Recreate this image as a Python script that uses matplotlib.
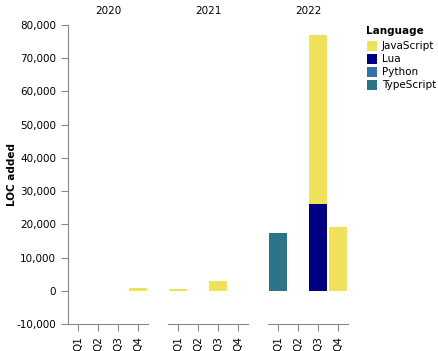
import numpy as np
import matplotlib.pyplot as plt
from matplotlib.patches import Rectangle
from matplotlib.ticker import FuncFormatter

years = ["2020", "2021", "2022"]
quarters = ["Q1", "Q2", "Q3", "Q4"]
languages = ["JavaScript", "Lua", "Python", "TypeScript"]
colors = ["#f1e05a", "#000080", "#3572a5", "#2b7489"]

# LOC added per quarter, rows = year, cols = quarter
lua = [[0, 0, 0, 0], [0, 0, 0, 0], [0, 0, 26100, 0]]
typescript = [[0, 0, 0, 0], [0, 0, 0, 0], [17400, 0, 0, 0]]
python = [[0, 0, 0, 0], [0, 0, 0, 0], [0, 0, 0, 0]]
javascript = [[0, 0, 0, 700], [400, 0, 3000, 0], [0, 0, 50900, 19200]]

# stacking order from bottom
stack = [("Lua", lua), ("TypeScript", typescript), ("Python", python), ("JavaScript", javascript)]
col = dict(zip(languages, colors))

fig = plt.figure(figsize=(4.38, 3.51), dpi=100)
W, H = 438, 351
lefts = [68, 168, 268]
x = np.arange(len(quarters))

for i, yr in enumerate(years):
    ax = fig.add_axes([lefts[i] / W, 1 - 324 / H, 80 / W, 299 / H])
    bottom = np.zeros(4)
    for lang, vals in stack:
        v = np.array(vals[i], dtype=float)
        ax.bar(x, v, width=0.9, bottom=bottom, color=col[lang], linewidth=0)
        bottom += v
    ax.set_xlim(-0.5, 3.5)
    ax.set_ylim(-10000, 80000)
    ax.set_xticks(x)
    ax.set_xticklabels(quarters, rotation=90, fontsize=7.5)
    ax.set_title(yr, fontsize=7.5, pad=8)
    for s in ["top", "right"]:
        ax.spines[s].set_visible(False)
    ax.spines["bottom"].set_color("#888888")
    ax.spines["left"].set_color("#888888")
    ax.tick_params(colors="#888888", labelcolor="black", length=5, width=0.8)
    if i == 0:
        ax.set_yticks(np.arange(-10000, 80001, 10000))
        ax.yaxis.set_major_formatter(FuncFormatter(lambda v, p: f"{int(v):,}"))
        ax.tick_params(axis="y", labelsize=7.5)
    else:
        ax.spines["left"].set_visible(False)
        ax.set_yticks([])

fig.text(12 / W, 1 - 174 / H, "LOC added", rotation=90, fontsize=7.5,
         fontweight="bold", ha="center", va="center")

# legend
fig.text(366 / W, 1 - 30.5 / H, "Language", fontsize=7.5, fontweight="bold",
         ha="left", va="center")
for k, (lang, c) in enumerate(zip(languages, colors)):
    yc = 46 + 13 * k
    fig.add_artist(Rectangle((367 / W, 1 - (yc + 5) / H), 10 / W, 10 / H,
                             transform=fig.transFigure, color=c, lw=0))
    fig.text(382 / W, 1 - yc / H, lang, fontsize=7.5, ha="left", va="center")

fig.savefig("out.png", dpi=100)
